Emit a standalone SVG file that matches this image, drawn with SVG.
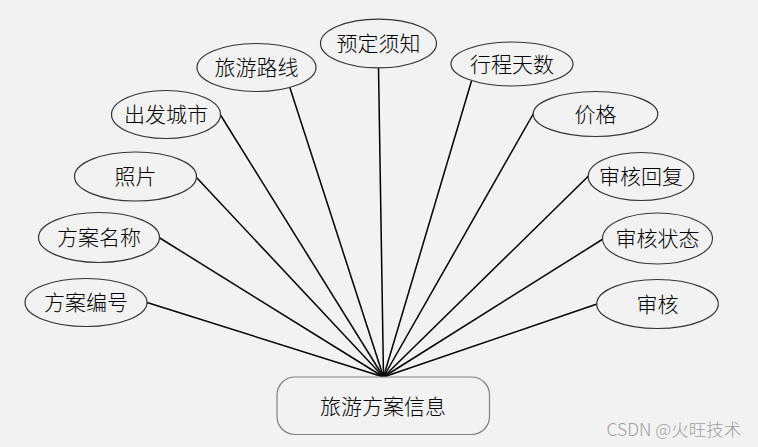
<svg xmlns="http://www.w3.org/2000/svg" width="758" height="447" viewBox="0 0 758 447">
<style>
.bg{fill:#f2f2f2}
.attr ellipse{fill:#f2f2f2;stroke:#333;stroke-width:1.2}
text{font-family:"Noto Sans CJK SC","Liberation Sans",sans-serif;font-size:21px;font-weight:300;fill:#000;text-anchor:middle}
.edges line{stroke:#000;stroke-width:1.5}
.ent rect{fill:#f2f2f2;stroke:#7f7f7f;stroke-width:1.2}
.wm{font-size:17.5px;fill:#a0a0a0;text-anchor:start}
</style>
<rect class="bg" x="0" y="0" width="758" height="447"/>
<g id="edges" class="edges">
<line x1="147" y1="302.5" x2="383.5" y2="377"/>
<line x1="159" y1="237.5" x2="383.5" y2="377"/>
<line x1="196.5" y1="177.5" x2="383.5" y2="377"/>
<line x1="220.5" y1="115" x2="383.5" y2="377"/>
<line x1="290" y1="88" x2="383.5" y2="377"/>
<line x1="378.5" y1="67.5" x2="383.5" y2="377"/>
<line x1="471.5" y1="81" x2="383.5" y2="377"/>
<line x1="533.5" y1="113.5" x2="383.5" y2="377"/>
<line x1="588.5" y1="176" x2="383.5" y2="377"/>
<line x1="603" y1="239" x2="383.5" y2="377"/>
<line x1="597" y1="304" x2="383.5" y2="377"/>
</g>
<g id="n_bianhao" class="attr"><ellipse cx="86" cy="302.5" rx="61" ry="24"/><text x="86" y="310">方案编号</text></g>
<g id="n_mingcheng" class="attr"><ellipse cx="99" cy="237.5" rx="60.5" ry="25"/><text x="99" y="245">方案名称</text></g>
<g id="n_zhaopian" class="attr"><ellipse cx="135.5" cy="176.5" rx="61" ry="24.5"/><text x="135.5" y="184">照片</text></g>
<g id="n_chufa" class="attr"><ellipse cx="166" cy="114.5" rx="54.5" ry="24"/><text x="166" y="122">出发城市</text></g>
<g id="n_luxian" class="attr"><ellipse cx="256.5" cy="67.5" rx="59.5" ry="24"/><text x="256.5" y="75">旅游路线</text></g>
<g id="n_xuzhi" class="attr"><ellipse cx="378.5" cy="43.5" rx="58" ry="24.3"/><text x="378.5" y="51">预定须知</text></g>
<g id="n_tianshu" class="attr"><ellipse cx="512" cy="64" rx="61" ry="22"/><text x="512" y="71.5">行程天数</text></g>
<g id="n_jiage" class="attr"><ellipse cx="595.5" cy="114" rx="62.3" ry="22.5"/><text x="595.5" y="121.5">价格</text></g>
<g id="n_huifu" class="attr"><ellipse cx="641" cy="176.5" rx="52.8" ry="24"/><text x="641" y="184">审核回复</text></g>
<g id="n_zhuangtai" class="attr"><ellipse cx="657.5" cy="238.5" rx="55" ry="25.5"/><text x="657.5" y="246">审核状态</text></g>
<g id="n_shenhe" class="attr"><ellipse cx="657.5" cy="304" rx="60.8" ry="24.5"/><text x="657.5" y="311.5">审核</text></g>
<g id="n_entity" class="ent"><rect x="277" y="377" width="212.5" height="57.5" rx="18" ry="18"/><text x="383" y="413.5">旅游方案信息</text></g>
<text class="wm" x="606.5" y="435.5">CSDN @火旺技术</text>
</svg>
